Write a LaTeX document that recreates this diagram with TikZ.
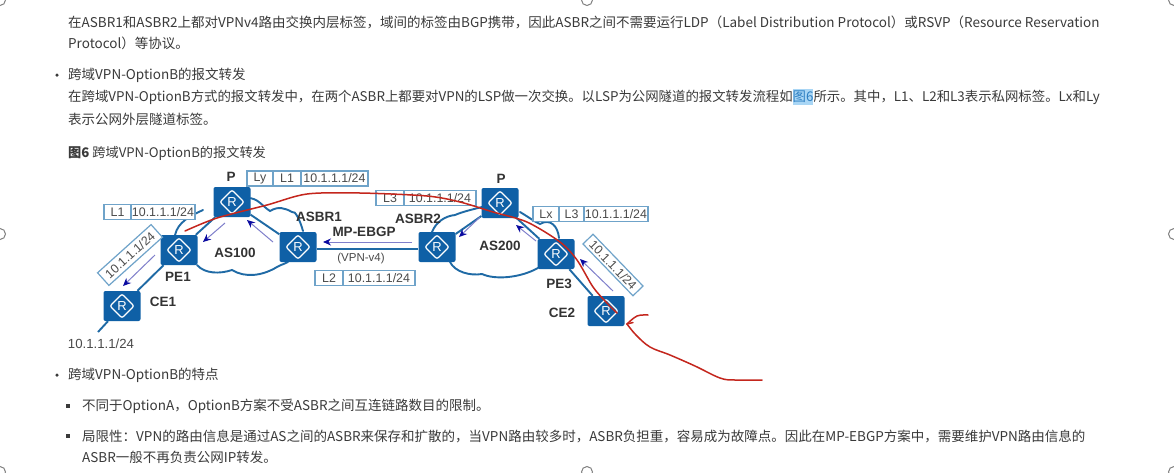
\documentclass[tikz,border=0pt]{standalone}
\usepackage{fontspec}
\usepackage{graphicx}
\setmainfont{Noto Sans CJK SC}
\newfontfamily\latinb{Liberation Sans}[Scale=1]
\usetikzlibrary{arrows.meta,backgrounds}
\definecolor{txt}{HTML}{3A3A3A}
\definecolor{hw}{HTML}{0F60A6}
\definecolor{cloudc}{HTML}{1F6AA5}
\definecolor{lbl}{HTML}{6FA3C9}
\definecolor{lbltxt}{HTML}{4A4A4A}
\definecolor{fwd}{HTML}{7F7FCB}
\definecolor{tipc}{HTML}{0A0AA0}
\definecolor{ink}{HTML}{C4261D}
\definecolor{linkc}{HTML}{2E7FC2}
\definecolor{hilite}{HTML}{A9D6F5}
\tikzset{
  para/.style={anchor=west,inner sep=0pt,text=txt,font=\fontsize{13.5}{14}\selectfont},
  bul/.style={circle,fill=txt,inner sep=0pt,minimum size=3.5pt},
  sqbul/.style={rectangle,fill=txt,inner sep=0pt,minimum size=4pt},
  router/.style={rectangle,rounded corners=2pt,fill=hw,inner sep=0pt,minimum width=37pt,minimum height=30pt,
    text=white,font=\latinb\fontsize{13}{13}\selectfont,
    path picture={\draw[white,line width=1.2pt] ([xshift=-12pt]path picture bounding box.center)
      -- ([yshift=12pt]path picture bounding box.center)
      -- ([xshift=12pt]path picture bounding box.center)
      -- ([yshift=-12pt]path picture bounding box.center) -- cycle;}},
  cell/.style={rectangle,draw=lbl,line width=1.2pt,fill=white,inner sep=0pt,minimum height=15pt,text=lbltxt,
    font=\latinb\fontsize{12.4}{13}\selectfont},
  nm/.style={inner sep=0pt,text=black!80,font=\latinb\bfseries\fontsize{13.5}{14}\selectfont},
  cloudl/.style={draw=cloudc,line width=1.9pt,line cap=round},
  lnk/.style={draw=cloudc,line width=1.9pt},
  fwdarrow/.style={draw=fwd,line width=1pt,-{Stealth[length=8pt,width=7pt,color=tipc]}},
  redline/.style={draw=ink,line width=1.5pt,line cap=round,line join=round},
  handle/.style={circle,draw=black!50,line width=1pt,fill=white,inner sep=0pt,minimum size=11pt}
}
\begin{document}
\begin{tikzpicture}[x=1pt,y=-1pt]
\useasboundingbox (0,0) rectangle (1174,472);
\fill[white] (0,0) rectangle (1174,472);
% window handles
\node[handle] (h1) at (0,0) {};
\node[handle] (h2) at (587,0) {};
\node[handle] (h3) at (1174,0) {};
\node[handle] (h4) at (0,234) {};
\node[handle] (h5) at (1174,234) {};
\node[handle] (h6) at (0,472) {};
\node[handle] (h7) at (587,472) {};
\node[handle] (h8) at (1174,472) {};
% text
\node[para] (t1) at (68,22) {在ASBR1和ASBR2上都对VPNv4路由交换内层标签，域间的标签由BGP携带，因此ASBR之间不需要运行LDP（Label Distribution Protocol）或RSVP（Resource Reservation};
\node[para] (t2) at (68,43) {Protocol）等协议。};
\node[bul] (b1) at (57,75) {};
\node[para] (t3) at (68,75) {跨域VPN-OptionB的报文转发};
\fill[hilite] (793,89) rectangle (813,105);
\node[para,font=\fontsize{13.4}{14}\selectfont] (t4) at (68,97) {在跨域VPN-OptionB方式的报文转发中，在两个ASBR上都要对VPN的LSP做一次交换。以LSP为公网隧道的报文转发流程如\textcolor{linkc}{图6}所示。其中，L1、L2和L3表示私网标签。Lx和Ly};
\node[para] (t5) at (68,119) {表示公网外层隧道标签。};
\node[para,font=\fontsize{13.2}{14}\selectfont] (cap) at (68,153) {\textbf{图6} 跨域VPN-OptionB的报文转发};
\node[bul] (b2) at (57,375) {};
\node[para] (t6) at (68,375) {跨域VPN-OptionB的特点};
\node[sqbul] (b3) at (68,406) {};
\node[para] (t7) at (82,406) {不同于OptionA，OptionB方案不受ASBR之间互连链路数目的限制。};
\node[sqbul] (b4) at (68,436) {};
\node[para] (t8) at (82,436) {局限性：VPN的路由信息是通过AS之间的ASBR来保存和扩散的，当VPN路由较多时，ASBR负担重，容易成为故障点。因此在MP-EBGP方案中，需要维护VPN路由信息的};
\node[para] (t9) at (82,457) {ASBR一般不再负责公网IP转发。};
% clouds
\draw[cloudl] (175,235) .. controls (178,222) and (190,216) .. (203,210)
  (248,198) .. controls (258,198) and (262,206) .. (270,211)
  .. controls (278,206) and (285,208) .. (292,212)
  .. controls (295,210) and (300,220) .. (303,231)
  (197,265) .. controls (205,274) and (220,274) .. (232,270)
  .. controls (245,278) and (262,276) .. (277,267)
  .. controls (282,264) and (285,264) .. (288,262);
\draw[cloudl] (432,232) .. controls (436,222) and (445,216) .. (455,215)
  .. controls (462,212) and (470,210) .. (482,207)
  (520,212) .. controls (530,218) and (535,222) .. (540,224)
  .. controls (550,218) and (558,226) .. (559,238)
  (450,262) .. controls (455,272) and (470,276) .. (482,274)
  .. controls (495,280) and (520,278) .. (538,268);
% routers
\node[router] (p1) at (232,202) {R};
\node[router] (pe1) at (179,250) {R};
\node[router] (asbr1) at (298,247) {R};
\node[router] (ce1) at (122,306) {R};
\node[router] (p2) at (500,203) {R};
\node[router] (asbr2) at (437,247) {R};
\node[router] (pe3) at (556,254) {R};
\node[router] (ce2) at (606,311) {R};
% links
\coordinate (tail) at (98,332);
\draw[lnk] (p1) -- (pe1);
\draw[lnk] (p1) -- (asbr1);
\draw[lnk] (pe1) -- (ce1);
\draw[lnk] (ce1) -- (tail);
\draw[lnk] (asbr1.east |- 0,249) -- (asbr2.west |- 0,249);
\draw[lnk] (p2) -- (asbr2);
\draw[lnk] (p2) -- (pe3);
\draw[lnk] (pe3) -- (ce2);
% labels
\node[cell,minimum width=26pt] (a1) at (260,178.5) {Ly};
\node[cell,minimum width=28pt] (a2) at (287,178.5) {L1};
\node[cell,minimum width=67pt] (a3) at (334.5,178.5) {10.1.1.1/24};
\node[cell,minimum width=27pt] (b5) at (117.5,212) {L1};
\node[cell,minimum width=64pt] (b6) at (163,212) {10.1.1.1/24};
\node[cell,minimum width=28pt] (c1) at (329,278) {L2};
\node[cell,minimum width=72pt] (c2) at (379,278) {10.1.1.1/24};
\node[cell,minimum width=28pt] (d1) at (390,198) {L3};
\node[cell,minimum width=72pt] (d2) at (440,198) {10.1.1.1/24};
\node[cell,minimum width=26pt] (e1) at (546,214) {Lx};
\node[cell,minimum width=25pt] (e2) at (571.5,214) {L3};
\node[cell,minimum width=64pt] (e3) at (616,214) {10.1.1.1/24};
\node[cell,minimum width=72pt,minimum height=17pt,rotate=42] (f1) at (130,255) {10.1.1.1/24};
\node[cell,minimum width=72pt,minimum height=14pt,rotate=-46] (f2) at (613,265) {10.1.1.1/24};
% forwarding arrows
\foreach \nn/\xa/\ya/\xb/\yb in {1/225/223/203/242,2/273/242/247/220,3/155/255/123/286,4/480/217/459/237,5/536/241/516/225,6/613/291/580/259,7/412/242/323/242}{
  \coordinate (fs\nn) at (\xa,\ya);
  \coordinate (fe\nn) at (\xb,\yb);
  \draw[fwdarrow] (fs\nn) -- (fe\nn);
}
% names
\node[nm] (n1) at (231,177) {P};
\node[nm] (n2) at (501,179) {P};
\node[nm] (n3) at (178,277) {PE1};
\node[nm] (n4) at (163,302) {CE1};
\node[nm] (n5) at (319,217) {ASBR1};
\node[nm] (n6) at (418,219) {ASBR2};
\node[nm] (n7) at (364,232) {MP-EBGP};
\node[inner sep=0pt,text=lbltxt,font=\latinb\fontsize{11.5}{12}\selectfont] (n8) at (361,259) {(VPN-v4)};
\node[nm] (n9) at (559,284) {PE3};
\node[nm] (n10) at (562,313) {CE2};
\node[nm] (n11) at (235,253) {AS100};
\node[nm] (n12) at (500,246) {AS200};
\node[inner sep=0pt,text=lbltxt,font=\latinb\fontsize{13.2}{14}\selectfont] (n13) at (101,344) {10.1.1.1/24};
% red freehand
\draw[redline] plot[smooth,tension=0.5] coordinates {(185,231) (217,218) (267,205) (307,194) (360,193) (427,196) (460,202) (493,212) (527,222) (560,242) (577,260) (593,287) (606,302) (617,313)};
\draw[redline] plot[smooth,tension=0.6] coordinates {(648,315) (637,316) (627,324)};
\draw[redline] (627,324) -- (633,322.5);
\draw[redline] plot[smooth,tension=0.6] coordinates {(627,324) (636,335) (650,347) (670,355) (695,366) (720,378) (735,380) (762,380)};
\end{tikzpicture}
\end{document}
